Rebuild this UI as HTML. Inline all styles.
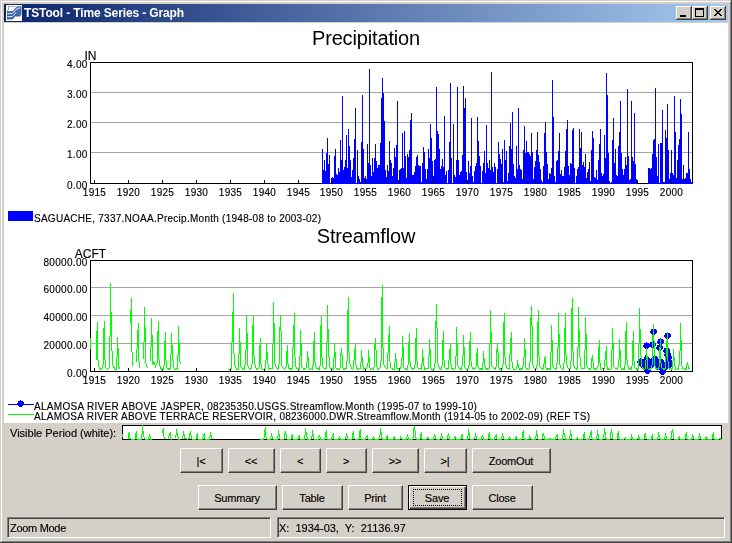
<!DOCTYPE html>
<html><head><meta charset="utf-8">
<style>
html,body{margin:0;padding:0;}
body{width:732px;height:543px;overflow:hidden;background:#d4d0c8;position:relative;font-family:"Liberation Sans",sans-serif;}
.abs{position:absolute;}
.ax,.axt,.leg,.ctitle,.btn,.status,.txt,.vp{opacity:0.999;will-change:opacity;}
.ax,.axt,.leg,.btn,.status,.vp{-webkit-text-stroke:0.15px #000;}
#title{left:4px;top:4px;width:724px;height:18px;background:linear-gradient(to right,#0a246a 0%,#a6caf0 100%);}
#title .txt{left:20px;top:1px;color:#fff;font-weight:bold;font-size:12px;line-height:16px;white-space:nowrap;letter-spacing:-0.13px;}
#canvas{left:4px;top:23px;width:724px;height:400px;background:#fff;}
.btn{box-sizing:border-box;height:25px;background:#d4d0c8;border:1px solid;border-color:#fff #404040 #404040 #fff;box-shadow:inset -1px -1px 0 #808080;font-size:11px;text-align:center;line-height:24px;color:#000;letter-spacing:-0.2px;padding-right:1px;}
.ctitle{font-size:20px;line-height:22px;white-space:nowrap;color:#000;text-align:center;width:732px;left:0;letter-spacing:-0.15px;}
.ax{font-size:10px;line-height:12px;white-space:nowrap;color:#000;letter-spacing:0.3px;}
.axt{font-size:12px;line-height:12px;white-space:nowrap;color:#000;}
.leg{font-size:10px;line-height:11px;white-space:nowrap;color:#000;letter-spacing:0.26px;}
.status{box-sizing:border-box;height:21px;border:1px solid;border-color:#808080 #fff #fff #808080;box-shadow:inset 1px 1px 0 #404040;font-size:11px;line-height:20px;padding-left:2px;white-space:nowrap;letter-spacing:-0.3px;}
</style></head><body>
<div class="abs" style="left:0;top:0;width:731px;height:542px;border-right:1px solid #404040;border-bottom:1px solid #404040;"></div>
<div class="abs" style="left:1px;top:1px;width:730px;height:541px;border:1px solid;border-color:#fff #808080 #808080 #fff;box-sizing:border-box;"></div>
<div id="title" class="abs"><div class="abs txt">TSTool - Time Series - Graph</div></div>
<div id="canvas" class="abs"></div>
<svg class="abs" style="left:0;top:0" width="732" height="24" viewBox="0 0 732 24" shape-rendering="crispEdges">
<g id="capbtns">
<!-- min -->
<rect x="676" y="6" width="16" height="14" fill="#404040"/><rect x="676" y="6" width="15" height="13" fill="#fff"/><rect x="677" y="7" width="14" height="12" fill="#808080"/><rect x="677" y="7" width="13" height="11" fill="#d4d0c8"/>
<rect x="680" y="15" width="6" height="2" fill="#000"/>
<!-- max -->
<rect x="692" y="6" width="16" height="14" fill="#404040"/><rect x="692" y="6" width="15" height="13" fill="#fff"/><rect x="693" y="7" width="14" height="12" fill="#808080"/><rect x="693" y="7" width="13" height="11" fill="#d4d0c8"/>
<rect x="695" y="8" width="9" height="9" fill="#000"/><rect x="696" y="10" width="7" height="6" fill="#d4d0c8"/>
<!-- close -->
<rect x="710" y="6" width="16" height="14" fill="#404040"/><rect x="710" y="6" width="15" height="13" fill="#fff"/><rect x="711" y="7" width="14" height="12" fill="#808080"/><rect x="711" y="7" width="13" height="11" fill="#d4d0c8"/>
<path d="M714 9h2v1h1v1h2v-1h1v-1h2v1h-1v1h-1v1h-1v1h1v1h1v1h1v1h-2v-1h-1v-1h-2v1h-1v1h-2v-1h1v-1h1v-1h1v-1h-1v-1h-1v-1h-1z" fill="#000"/>
</g>
<!-- icon -->
<g id="icon" shape-rendering="auto">
<rect x="6" y="5" width="16" height="16" fill="#fff"/>
<g transform="translate(6,5)">
<path d="M2 1.5H9.5M2.5 1.5V5" stroke="#a8a8a8" stroke-width="1" fill="none"/>
<path d="M1 5.2L3 6.2L7 6L9.3 3L11.2 1.2L15.6 1.2L15.4 9.5L14 11.6L9 11.6L7 14.2L1 14.8Z" fill="#4468a8"/>
<path d="M1.5 8.6L6 8.6L9.2 5.4L12 3.2L14.2 3" stroke="#fff" stroke-width="0.9" fill="none"/>
<path d="M1.5 11.6L6 11.6L8.6 9L10 7.4" stroke="#fff" stroke-width="0.9" fill="none"/>
<path d="M1.5 7.5L6 7.6L8 5.5M1.5 10.4L6.5 10.4L8 9M10 10.4L13.5 10.4" stroke="#2c4a86" stroke-width="0.7" fill="none" stroke-dasharray="1 1"/>
</g>
</g>
</svg>

<div class="abs ctitle" style="top:27px;">Precipitation</div>
<div class="abs ctitle" style="top:225px;">Streamflow</div>

<svg class="abs" style="left:0;top:0" width="732" height="543" viewBox="0 0 732 543" shape-rendering="crispEdges">
<rect x="91" y="92" width="601" height="1" fill="#a6a4a7"/>
<rect x="91" y="122" width="601" height="1" fill="#a6a4a7"/>
<rect x="91" y="152" width="601" height="1" fill="#a6a4a7"/>
<path d="M90 62h603v1h-603zM90 183h603v1h-603zM90 62h1v122h-1zM692 62h1v122h-1z" fill="#000"/>
<path d="M322 149h1v35h-1zM323 170h1v14h-1zM324 160h1v24h-1zM325 171h1v13h-1zM326 153h1v31h-1zM327 138h1v46h-1zM328 164h1v20h-1zM329 155h1v29h-1zM330 183h1v1h-1zM331 178h1v6h-1zM332 177h1v7h-1zM333 178h1v6h-1zM334 156h1v28h-1zM335 149h1v35h-1zM336 174h1v10h-1zM337 175h1v9h-1zM338 168h1v16h-1zM339 172h1v12h-1zM340 140h1v44h-1zM341 160h1v24h-1zM342 96h1v88h-1zM343 170h1v14h-1zM344 167h1v17h-1zM345 160h1v24h-1zM346 135h1v49h-1zM347 168h1v16h-1zM348 129h1v55h-1zM349 146h1v38h-1zM350 160h1v24h-1zM351 177h1v7h-1zM352 170h1v14h-1zM353 158h1v26h-1zM354 139h1v45h-1zM355 108h1v76h-1zM356 183h1v1h-1zM357 150h1v34h-1zM358 176h1v8h-1zM359 179h1v5h-1zM360 182h1v2h-1zM361 142h1v42h-1zM362 95h1v89h-1zM363 149h1v35h-1zM364 178h1v6h-1zM365 176h1v8h-1zM366 179h1v5h-1zM367 144h1v40h-1zM368 163h1v21h-1zM369 69h1v115h-1zM370 165h1v19h-1zM371 176h1v8h-1zM372 158h1v26h-1zM373 172h1v12h-1zM374 158h1v26h-1zM375 144h1v40h-1zM376 161h1v23h-1zM377 168h1v16h-1zM378 165h1v19h-1zM379 165h1v19h-1zM380 143h1v41h-1zM381 98h1v86h-1zM382 78h1v106h-1zM383 93h1v91h-1zM384 121h1v63h-1zM385 170h1v14h-1zM386 177h1v7h-1zM387 165h1v19h-1zM388 171h1v13h-1zM389 141h1v43h-1zM390 160h1v24h-1zM391 163h1v21h-1zM392 176h1v8h-1zM393 168h1v16h-1zM394 148h1v36h-1zM395 157h1v27h-1zM396 145h1v39h-1zM397 101h1v83h-1zM398 180h1v4h-1zM399 170h1v14h-1zM400 169h1v15h-1zM401 168h1v16h-1zM402 133h1v51h-1zM403 168h1v16h-1zM404 131h1v53h-1zM405 156h1v28h-1zM406 178h1v6h-1zM407 154h1v30h-1zM408 157h1v27h-1zM409 150h1v34h-1zM410 120h1v64h-1zM411 113h1v71h-1zM412 175h1v9h-1zM413 175h1v9h-1zM414 172h1v12h-1zM415 166h1v18h-1zM416 157h1v27h-1zM417 155h1v29h-1zM418 165h1v19h-1zM419 166h1v18h-1zM420 166h1v18h-1zM421 182h1v2h-1zM422 163h1v21h-1zM423 147h1v37h-1zM424 152h1v32h-1zM425 169h1v15h-1zM426 179h1v5h-1zM427 169h1v15h-1zM428 149h1v35h-1zM429 158h1v26h-1zM430 124h1v60h-1zM431 138h1v46h-1zM432 161h1v23h-1zM433 176h1v8h-1zM434 160h1v24h-1zM435 159h1v25h-1zM436 87h1v97h-1zM437 131h1v53h-1zM438 134h1v50h-1zM439 149h1v35h-1zM440 169h1v15h-1zM441 166h1v18h-1zM442 159h1v25h-1zM443 167h1v17h-1zM444 116h1v68h-1zM445 175h1v9h-1zM446 171h1v13h-1zM447 183h1v1h-1zM448 170h1v14h-1zM449 142h1v42h-1zM450 83h1v101h-1zM451 158h1v26h-1zM452 183h1v1h-1zM453 124h1v60h-1zM454 175h1v9h-1zM455 177h1v7h-1zM456 160h1v24h-1zM457 87h1v97h-1zM458 160h1v24h-1zM459 175h1v9h-1zM460 172h1v12h-1zM461 171h1v13h-1zM462 155h1v29h-1zM463 86h1v98h-1zM464 108h1v76h-1zM465 98h1v86h-1zM466 172h1v12h-1zM467 180h1v4h-1zM468 161h1v23h-1zM469 173h1v11h-1zM470 166h1v18h-1zM471 118h1v66h-1zM472 176h1v8h-1zM473 182h1v2h-1zM474 171h1v13h-1zM475 166h1v18h-1zM476 163h1v21h-1zM477 117h1v67h-1zM478 141h1v43h-1zM479 156h1v28h-1zM480 166h1v18h-1zM481 183h1v1h-1zM482 171h1v13h-1zM483 163h1v21h-1zM484 151h1v33h-1zM485 173h1v11h-1zM486 125h1v59h-1zM487 163h1v21h-1zM488 168h1v16h-1zM489 160h1v24h-1zM490 170h1v14h-1zM491 72h1v112h-1zM492 167h1v17h-1zM493 172h1v12h-1zM494 163h1v21h-1zM495 167h1v17h-1zM496 183h1v1h-1zM497 169h1v15h-1zM498 142h1v42h-1zM499 154h1v30h-1zM500 159h1v25h-1zM501 164h1v20h-1zM502 149h1v35h-1zM503 182h1v2h-1zM504 140h1v44h-1zM505 160h1v24h-1zM506 151h1v33h-1zM507 181h1v3h-1zM508 173h1v11h-1zM509 146h1v38h-1zM510 123h1v61h-1zM511 149h1v35h-1zM512 112h1v72h-1zM513 164h1v20h-1zM514 176h1v8h-1zM515 178h1v6h-1zM516 146h1v38h-1zM517 169h1v15h-1zM518 108h1v76h-1zM519 165h1v19h-1zM520 169h1v15h-1zM521 170h1v14h-1zM522 179h1v5h-1zM523 150h1v34h-1zM524 126h1v58h-1zM525 153h1v31h-1zM526 141h1v43h-1zM527 152h1v32h-1zM528 152h1v32h-1zM529 154h1v30h-1zM530 156h1v28h-1zM531 133h1v51h-1zM532 152h1v32h-1zM533 179h1v5h-1zM534 167h1v17h-1zM535 161h1v23h-1zM536 150h1v34h-1zM537 132h1v52h-1zM538 155h1v29h-1zM539 162h1v22h-1zM540 169h1v15h-1zM541 180h1v4h-1zM542 182h1v2h-1zM543 166h1v18h-1zM544 133h1v51h-1zM545 122h1v62h-1zM546 152h1v32h-1zM547 164h1v20h-1zM548 179h1v5h-1zM549 173h1v11h-1zM550 174h1v10h-1zM551 168h1v16h-1zM552 80h1v104h-1zM553 117h1v67h-1zM554 176h1v8h-1zM555 182h1v2h-1zM556 161h1v23h-1zM557 160h1v24h-1zM558 151h1v33h-1zM559 133h1v51h-1zM560 174h1v10h-1zM561 170h1v14h-1zM562 176h1v8h-1zM563 176h1v8h-1zM564 167h1v17h-1zM565 151h1v33h-1zM566 129h1v55h-1zM567 120h1v64h-1zM568 166h1v18h-1zM569 175h1v9h-1zM570 163h1v21h-1zM571 164h1v20h-1zM572 130h1v54h-1zM573 128h1v56h-1zM574 168h1v16h-1zM575 183h1v1h-1zM576 176h1v8h-1zM577 169h1v15h-1zM578 167h1v17h-1zM579 129h1v55h-1zM580 148h1v36h-1zM581 132h1v52h-1zM582 165h1v19h-1zM583 162h1v22h-1zM584 167h1v17h-1zM585 154h1v30h-1zM586 178h1v6h-1zM587 172h1v12h-1zM588 169h1v15h-1zM589 162h1v22h-1zM590 181h1v3h-1zM591 150h1v34h-1zM592 131h1v53h-1zM593 138h1v46h-1zM594 177h1v7h-1zM595 178h1v6h-1zM596 170h1v14h-1zM597 180h1v4h-1zM598 160h1v24h-1zM599 144h1v40h-1zM600 129h1v55h-1zM601 173h1v11h-1zM602 176h1v8h-1zM603 174h1v10h-1zM604 135h1v49h-1zM605 158h1v26h-1zM606 73h1v111h-1zM607 95h1v89h-1zM608 153h1v31h-1zM609 181h1v3h-1zM610 183h1v1h-1zM611 182h1v2h-1zM612 140h1v44h-1zM613 118h1v66h-1zM614 163h1v21h-1zM615 149h1v35h-1zM616 175h1v9h-1zM617 176h1v8h-1zM618 146h1v38h-1zM619 132h1v52h-1zM620 101h1v83h-1zM621 153h1v31h-1zM622 169h1v15h-1zM623 175h1v9h-1zM624 169h1v15h-1zM625 157h1v27h-1zM626 165h1v19h-1zM627 89h1v95h-1zM628 156h1v28h-1zM629 180h1v4h-1zM630 179h1v5h-1zM631 101h1v83h-1zM632 157h1v27h-1zM633 161h1v23h-1zM634 113h1v71h-1zM635 164h1v20h-1zM636 179h1v5h-1zM637 180h1v4h-1zM648 168h1v16h-1zM649 168h1v16h-1zM650 169h1v15h-1zM651 168h1v16h-1zM652 154h1v30h-1zM653 140h1v44h-1zM654 139h1v45h-1zM655 88h1v96h-1zM656 157h1v27h-1zM657 176h1v8h-1zM658 144h1v40h-1zM659 183h1v1h-1zM660 143h1v41h-1zM661 143h1v41h-1zM662 110h1v74h-1zM663 182h1v2h-1zM664 182h1v2h-1zM665 130h1v54h-1zM666 138h1v46h-1zM667 104h1v80h-1zM668 150h1v34h-1zM669 179h1v5h-1zM670 173h1v11h-1zM671 150h1v34h-1zM672 173h1v11h-1zM673 175h1v9h-1zM674 96h1v88h-1zM675 132h1v52h-1zM676 178h1v6h-1zM677 160h1v24h-1zM678 145h1v39h-1zM679 139h1v45h-1zM680 99h1v85h-1zM681 114h1v70h-1zM682 179h1v5h-1zM683 165h1v19h-1zM684 179h1v5h-1zM685 178h1v6h-1zM686 173h1v11h-1zM687 173h1v11h-1zM688 132h1v52h-1zM689 169h1v15h-1zM690 179h1v5h-1zM691 182h1v2h-1z" fill="#0000ff"/>
<path d="M94 180h1v4h-1zM128 180h1v4h-1zM162 180h1v4h-1zM196 180h1v4h-1zM230 180h1v4h-1zM264 180h1v4h-1zM298 180h1v4h-1zM331 180h1v4h-1zM365 180h1v4h-1zM399 180h1v4h-1zM433 180h1v4h-1zM467 180h1v4h-1zM501 180h1v4h-1zM535 180h1v4h-1zM569 180h1v4h-1zM603 180h1v4h-1zM637 180h1v4h-1zM671 180h1v4h-1z" fill="#000"/>
<rect x="8" y="211" width="25" height="10" fill="#0000ff"/>
<rect x="91" y="287" width="601" height="1" fill="#a6a4a7"/>
<rect x="91" y="315" width="601" height="1" fill="#a6a4a7"/>
<rect x="91" y="343" width="601" height="1" fill="#a6a4a7"/>
<path d="M90 260h603v1h-603zM90 371h603v1h-603zM90 260h1v112h-1zM692 260h1v112h-1z" fill="#000"/>
<path d="M94 368h1v3h-1zM128 368h1v3h-1zM162 368h1v3h-1zM196 368h1v3h-1zM230 368h1v3h-1zM264 368h1v3h-1zM298 368h1v3h-1zM331 368h1v3h-1zM365 368h1v3h-1zM399 368h1v3h-1zM433 368h1v3h-1zM467 368h1v3h-1zM501 368h1v3h-1zM535 368h1v3h-1zM569 368h1v3h-1zM603 368h1v3h-1zM637 368h1v3h-1zM671 368h1v3h-1z" fill="#000"/>
<path d="M637 361h1v2h-1zM638 359h1v5h-1zM639 359h1v7h-1zM640 358h1v9h-1zM641 359h1v9h-1zM642 359h1v10h-1zM643 345h1v2h-1zM643 359h1v11h-1zM644 343h1v5h-1zM644 357h1v15h-1zM645 343h1v6h-1zM645 355h1v18h-1zM646 342h1v32h-1zM647 343h1v6h-1zM647 357h1v17h-1zM648 343h1v5h-1zM648 357h1v17h-1zM649 344h1v3h-1zM649 358h1v15h-1zM650 331h1v2h-1zM650 342h1v5h-1zM650 359h1v13h-1zM651 329h1v5h-1zM651 342h1v6h-1zM651 358h1v11h-1zM652 329h1v6h-1zM652 338h1v30h-1zM653 328h1v20h-1zM653 356h1v11h-1zM654 329h1v6h-1zM654 342h1v24h-1zM655 329h1v5h-1zM655 343h1v3h-1zM655 356h1v12h-1zM656 330h1v3h-1zM656 347h1v2h-1zM656 356h1v13h-1zM657 341h1v2h-1zM657 345h1v5h-1zM657 357h1v13h-1zM658 339h1v5h-1zM658 345h1v6h-1zM658 359h1v11h-1zM659 339h1v31h-1zM659 371h1v2h-1zM660 338h1v36h-1zM661 339h1v11h-1zM661 359h1v16h-1zM662 339h1v5h-1zM662 346h1v3h-1zM662 359h1v16h-1zM663 340h1v3h-1zM663 350h1v2h-1zM663 360h1v15h-1zM664 335h1v2h-1zM664 348h1v5h-1zM664 354h1v2h-1zM664 362h1v12h-1zM665 333h1v5h-1zM665 348h1v25h-1zM666 333h1v6h-1zM666 343h1v27h-1zM667 332h1v37h-1zM668 333h1v6h-1zM668 348h1v20h-1zM669 333h1v5h-1zM669 349h1v19h-1zM670 334h1v3h-1zM670 353h1v15h-1zM671 356h1v3h-1zM671 360h1v7h-1zM672 363h1v3h-1z" fill="#0000ff"/>
<path d="M90 338h1v11h-1zM96 331h1v29h-1zM97 322h1v38h-1zM98 360h1v7h-1zM99 367h1v2h-1zM100 368h1v2h-1zM101 369h1v1h-1zM102 365h1v4h-1zM103 328h1v37h-1zM104 321h1v39h-1zM105 360h1v8h-1zM106 368h1v1h-1zM107 369h1v1h-1zM108 368h1v1h-1zM109 336h1v32h-1zM110 283h1v53h-1zM111 312h1v39h-1zM112 351h1v14h-1zM113 365h1v3h-1zM114 367h1v3h-1zM115 369h1v1h-1zM116 357h1v13h-1zM117 337h1v20h-1zM118 348h1v19h-1zM119 367h1v2h-1zM130 310h1v13h-1zM131 298h1v54h-1zM132 352h1v14h-1zM136 349h1v13h-1zM137 330h1v19h-1zM138 323h1v38h-1zM139 361h1v7h-1zM143 342h1v17h-1zM144 307h1v35h-1zM145 327h1v37h-1zM146 364h1v3h-1zM147 367h1v1h-1zM150 347h1v14h-1zM151 318h1v29h-1zM152 335h1v29h-1zM153 362h1v3h-1zM154 362h1v3h-1zM155 365h1v3h-1zM156 363h1v2h-1zM157 331h1v32h-1zM158 321h1v38h-1zM159 359h1v7h-1zM160 366h1v3h-1zM161 368h1v2h-1zM162 368h1v2h-1zM163 366h1v4h-1zM164 341h1v25h-1zM165 332h1v29h-1zM166 361h1v7h-1zM167 368h1v1h-1zM168 368h1v2h-1zM169 368h1v2h-1zM170 354h1v15h-1zM171 333h1v21h-1zM172 345h1v16h-1zM173 361h1v7h-1zM174 368h1v2h-1zM175 369h1v1h-1zM176 368h1v1h-1zM177 355h1v15h-1zM178 326h1v29h-1zM179 342h1v20h-1zM180 362h1v2h-1zM228 369h1v1h-1zM229 369h1v1h-1zM230 368h1v1h-1zM231 342h1v27h-1zM232 312h1v30h-1zM233 293h1v61h-1zM234 354h1v12h-1zM235 366h1v2h-1zM236 368h1v2h-1zM237 369h1v1h-1zM238 354h1v16h-1zM239 328h1v26h-1zM240 342h1v25h-1zM241 367h1v1h-1zM242 368h1v2h-1zM243 368h1v1h-1zM244 365h1v5h-1zM245 350h1v15h-1zM246 315h1v35h-1zM247 333h1v33h-1zM248 366h1v2h-1zM249 368h1v2h-1zM250 368h1v1h-1zM251 364h1v5h-1zM252 325h1v39h-1zM253 316h1v40h-1zM254 356h1v9h-1zM255 365h1v3h-1zM256 368h1v2h-1zM257 368h1v1h-1zM258 367h1v2h-1zM259 345h1v22h-1zM260 338h1v26h-1zM261 364h1v5h-1zM262 369h1v1h-1zM263 369h1v1h-1zM264 368h1v1h-1zM265 360h1v9h-1zM266 343h1v17h-1zM267 352h1v12h-1zM268 364h1v5h-1zM269 368h1v2h-1zM270 368h1v1h-1zM271 368h1v1h-1zM272 344h1v25h-1zM273 302h1v42h-1zM274 323h1v41h-1zM275 364h1v3h-1zM276 367h1v1h-1zM277 368h1v2h-1zM278 364h1v5h-1zM279 327h1v37h-1zM280 315h1v16h-1zM281 331h1v35h-1zM282 366h1v2h-1zM283 368h1v1h-1zM284 369h1v1h-1zM285 367h1v2h-1zM286 351h1v16h-1zM287 345h1v19h-1zM288 364h1v5h-1zM289 368h1v1h-1zM290 368h1v2h-1zM291 368h1v2h-1zM292 347h1v22h-1zM293 325h1v22h-1zM294 313h1v44h-1zM295 357h1v10h-1zM296 367h1v2h-1zM297 368h1v1h-1zM298 368h1v2h-1zM299 356h1v14h-1zM300 330h1v26h-1zM301 343h1v24h-1zM302 367h1v1h-1zM303 368h1v2h-1zM304 368h1v2h-1zM305 368h1v1h-1zM306 362h1v6h-1zM307 351h1v11h-1zM308 357h1v12h-1zM309 369h1v1h-1zM310 369h1v1h-1zM311 368h1v1h-1zM312 365h1v5h-1zM313 341h1v24h-1zM314 332h1v30h-1zM315 362h1v5h-1zM316 367h1v2h-1zM317 368h1v1h-1zM318 368h1v2h-1zM319 366h1v4h-1zM320 325h1v41h-1zM321 316h1v42h-1zM322 358h1v9h-1zM323 367h1v1h-1zM324 368h1v2h-1zM325 368h1v1h-1zM326 342h1v27h-1zM327 305h1v37h-1zM328 329h1v28h-1zM329 357h1v10h-1zM330 367h1v2h-1zM331 368h1v1h-1zM332 368h1v1h-1zM333 358h1v12h-1zM334 343h1v15h-1zM335 352h1v16h-1zM336 368h1v1h-1zM337 368h1v2h-1zM338 369h1v1h-1zM339 368h1v2h-1zM340 353h1v15h-1zM341 348h1v7h-1zM342 355h1v13h-1zM343 368h1v2h-1zM344 368h1v2h-1zM345 368h1v1h-1zM346 361h1v8h-1zM347 310h1v51h-1zM348 297h1v56h-1zM349 353h1v11h-1zM350 364h1v3h-1zM351 367h1v2h-1zM352 369h1v1h-1zM353 360h1v9h-1zM354 349h1v11h-1zM355 343h1v22h-1zM356 365h1v4h-1zM357 368h1v2h-1zM358 369h1v1h-1zM359 368h1v1h-1zM360 363h1v6h-1zM361 350h1v13h-1zM362 357h1v9h-1zM363 366h1v4h-1zM364 368h1v1h-1zM365 368h1v1h-1zM366 367h1v2h-1zM367 363h1v4h-1zM368 350h1v13h-1zM369 357h1v11h-1zM370 368h1v2h-1zM371 369h1v1h-1zM372 368h1v1h-1zM373 367h1v3h-1zM374 344h1v23h-1zM375 338h1v12h-1zM376 350h1v17h-1zM377 367h1v3h-1zM378 369h1v1h-1zM379 368h1v1h-1zM380 361h1v7h-1zM381 297h1v64h-1zM382 285h1v63h-1zM383 348h1v17h-1zM384 365h1v2h-1zM385 367h1v1h-1zM386 368h1v1h-1zM387 353h1v16h-1zM388 335h1v18h-1zM389 326h1v36h-1zM390 362h1v6h-1zM391 368h1v1h-1zM392 368h1v2h-1zM393 369h1v1h-1zM394 362h1v8h-1zM395 353h1v9h-1zM396 359h1v10h-1zM397 368h1v1h-1zM398 368h1v2h-1zM399 369h1v1h-1zM400 366h1v3h-1zM401 358h1v8h-1zM402 336h1v22h-1zM403 347h1v21h-1zM404 368h1v1h-1zM405 368h1v2h-1zM406 369h1v1h-1zM407 365h1v5h-1zM408 342h1v23h-1zM409 333h1v29h-1zM410 362h1v5h-1zM411 367h1v2h-1zM412 368h1v2h-1zM413 368h1v1h-1zM414 365h1v4h-1zM415 338h1v27h-1zM416 328h1v33h-1zM417 361h1v7h-1zM418 368h1v1h-1zM419 368h1v1h-1zM420 368h1v1h-1zM421 363h1v7h-1zM422 349h1v14h-1zM423 357h1v9h-1zM424 366h1v4h-1zM425 368h1v2h-1zM426 368h1v1h-1zM427 368h1v1h-1zM428 356h1v13h-1zM429 339h1v17h-1zM430 349h1v19h-1zM431 368h1v2h-1zM432 369h1v1h-1zM433 368h1v2h-1zM434 363h1v6h-1zM435 321h1v42h-1zM436 304h1v24h-1zM437 328h1v36h-1zM438 364h1v3h-1zM439 367h1v2h-1zM440 369h1v1h-1zM441 366h1v4h-1zM442 340h1v26h-1zM443 331h1v29h-1zM444 360h1v8h-1zM445 368h1v1h-1zM446 368h1v1h-1zM447 368h1v2h-1zM448 360h1v9h-1zM449 349h1v11h-1zM450 344h1v20h-1zM451 364h1v5h-1zM452 368h1v2h-1zM453 368h1v1h-1zM454 369h1v1h-1zM455 356h1v13h-1zM456 327h1v29h-1zM457 343h1v23h-1zM458 366h1v2h-1zM459 368h1v1h-1zM460 368h1v2h-1zM461 366h1v4h-1zM462 355h1v11h-1zM463 335h1v20h-1zM464 347h1v21h-1zM465 368h1v1h-1zM466 369h1v1h-1zM467 368h1v2h-1zM468 365h1v4h-1zM469 341h1v24h-1zM470 332h1v29h-1zM471 361h1v6h-1zM472 367h1v2h-1zM473 368h1v2h-1zM474 368h1v1h-1zM475 367h1v2h-1zM476 353h1v14h-1zM477 348h1v18h-1zM478 366h1v3h-1zM479 369h1v1h-1zM480 368h1v2h-1zM481 368h1v2h-1zM482 363h1v7h-1zM483 351h1v12h-1zM484 358h1v8h-1zM485 366h1v3h-1zM486 368h1v2h-1zM487 368h1v2h-1zM488 369h1v1h-1zM489 343h1v26h-1zM490 310h1v33h-1zM491 332h1v34h-1zM492 366h1v1h-1zM493 367h1v2h-1zM494 368h1v1h-1zM495 367h1v3h-1zM496 349h1v18h-1zM497 343h1v10h-1zM498 353h1v15h-1zM499 368h1v2h-1zM500 368h1v2h-1zM501 369h1v1h-1zM502 364h1v5h-1zM503 322h1v42h-1zM504 313h1v44h-1zM505 357h1v8h-1zM506 365h1v3h-1zM507 368h1v1h-1zM508 368h1v1h-1zM509 354h1v16h-1zM510 338h1v16h-1zM511 332h1v30h-1zM512 362h1v6h-1zM513 368h1v2h-1zM514 369h1v1h-1zM515 369h1v1h-1zM516 366h1v3h-1zM517 360h1v6h-1zM518 364h1v4h-1zM519 368h1v2h-1zM520 368h1v2h-1zM521 368h1v2h-1zM522 366h1v3h-1zM523 357h1v9h-1zM524 338h1v19h-1zM525 349h1v19h-1zM526 368h1v2h-1zM527 368h1v1h-1zM528 369h1v1h-1zM529 362h1v7h-1zM530 317h1v45h-1zM531 306h1v20h-1zM532 326h1v39h-1zM533 365h1v3h-1zM534 368h1v1h-1zM535 368h1v1h-1zM536 365h1v4h-1zM537 322h1v43h-1zM538 310h1v47h-1zM539 357h1v10h-1zM540 367h1v1h-1zM541 368h1v1h-1zM542 368h1v2h-1zM543 364h1v5h-1zM544 358h1v6h-1zM545 356h1v12h-1zM546 368h1v2h-1zM547 368h1v2h-1zM548 368h1v2h-1zM549 368h1v1h-1zM550 352h1v18h-1zM551 325h1v27h-1zM552 340h1v26h-1zM553 366h1v2h-1zM554 368h1v1h-1zM555 368h1v2h-1zM556 363h1v6h-1zM557 347h1v16h-1zM558 313h1v34h-1zM559 334h1v31h-1zM560 365h1v3h-1zM561 368h1v1h-1zM562 369h1v1h-1zM563 363h1v7h-1zM564 328h1v35h-1zM565 313h1v42h-1zM566 355h1v10h-1zM567 365h1v3h-1zM568 368h1v1h-1zM569 368h1v1h-1zM570 361h1v8h-1zM571 308h1v53h-1zM572 298h1v53h-1zM573 351h1v15h-1zM574 366h1v2h-1zM575 368h1v1h-1zM576 368h1v2h-1zM577 347h1v22h-1zM578 307h1v40h-1zM579 330h1v27h-1zM580 357h1v10h-1zM581 367h1v2h-1zM582 368h1v1h-1zM583 368h1v1h-1zM584 350h1v19h-1zM585 317h1v33h-1zM586 334h1v32h-1zM587 366h1v2h-1zM588 368h1v1h-1zM589 368h1v2h-1zM590 368h1v2h-1zM591 358h1v10h-1zM592 355h1v6h-1zM593 361h1v8h-1zM594 368h1v2h-1zM595 368h1v2h-1zM596 369h1v1h-1zM597 366h1v3h-1zM598 347h1v19h-1zM599 340h1v23h-1zM600 363h1v6h-1zM601 369h1v1h-1zM602 368h1v1h-1zM603 369h1v1h-1zM604 360h1v9h-1zM605 351h1v9h-1zM606 346h1v20h-1zM607 366h1v4h-1zM608 368h1v2h-1zM609 369h1v1h-1zM610 369h1v1h-1zM611 350h1v19h-1zM612 328h1v22h-1zM613 343h1v24h-1zM614 367h1v1h-1zM615 368h1v1h-1zM616 368h1v1h-1zM617 367h1v3h-1zM618 359h1v8h-1zM619 339h1v20h-1zM620 350h1v18h-1zM621 368h1v2h-1zM622 369h1v1h-1zM623 368h1v2h-1zM624 365h1v5h-1zM625 331h1v34h-1zM626 322h1v38h-1zM627 360h1v6h-1zM628 366h1v3h-1zM629 368h1v2h-1zM630 369h1v1h-1zM631 366h1v4h-1zM632 341h1v25h-1zM633 331h1v30h-1zM634 361h1v7h-1zM635 368h1v1h-1zM636 368h1v2h-1zM637 368h1v2h-1zM638 344h1v25h-1zM639 308h1v36h-1zM640 329h1v27h-1zM641 356h1v11h-1zM642 367h1v2h-1zM643 368h1v2h-1zM644 369h1v1h-1zM645 360h1v9h-1zM646 348h1v12h-1zM647 356h1v13h-1zM648 369h1v1h-1zM649 368h1v2h-1zM650 368h1v2h-1zM651 365h1v4h-1zM652 335h1v30h-1zM653 324h1v17h-1zM654 341h1v25h-1zM655 366h1v3h-1zM656 368h1v2h-1zM657 368h1v1h-1zM658 367h1v3h-1zM659 347h1v20h-1zM660 339h1v24h-1zM661 363h1v5h-1zM662 368h1v1h-1zM663 368h1v2h-1zM664 368h1v2h-1zM665 357h1v12h-1zM666 341h1v16h-1zM667 332h1v29h-1zM668 361h1v7h-1zM669 368h1v2h-1zM670 368h1v1h-1zM671 368h1v2h-1zM672 361h1v8h-1zM673 349h1v12h-1zM674 357h1v9h-1zM675 366h1v4h-1zM676 369h1v1h-1zM677 368h1v1h-1zM678 365h1v5h-1zM679 351h1v14h-1zM680 323h1v28h-1zM681 340h1v26h-1zM682 366h1v3h-1zM683 368h1v1h-1zM684 369h1v1h-1zM685 368h1v2h-1zM686 364h1v6h-1zM687 362h1v3h-1zM688 365h1v4h-1zM689 368h1v1h-1z" fill="#00ff00"/>
<path d="M8 404h1v1h-1zM9 404h1v1h-1zM10 404h1v1h-1zM11 404h1v1h-1zM12 404h1v1h-1zM13 404h1v1h-1zM14 404h1v1h-1zM15 404h1v1h-1zM16 404h1v1h-1zM17 403h1v2h-1zM18 401h1v5h-1zM19 401h1v6h-1zM20 400h1v7h-1zM21 401h1v6h-1zM22 401h1v5h-1zM23 402h1v3h-1zM24 404h1v1h-1zM25 404h1v1h-1zM26 404h1v1h-1zM27 404h1v1h-1zM28 404h1v1h-1zM29 404h1v1h-1zM30 404h1v1h-1zM31 404h1v1h-1zM32 404h1v1h-1zM33 404h1v1h-1z" fill="#0000ff"/>
<rect x="8" y="414" width="26" height="1" fill="#00ff00"/>
<rect x="122" y="425" width="600" height="15" fill="#000"/>
<rect x="123" y="426" width="598" height="13" fill="#fff"/>
<path d="M122 434h1v3h-1zM128 433h1v6h-1zM129 432h1v6h-1zM130 438h1v1h-1zM131 439h1v1h-1zM132 439h1v1h-1zM133 439h1v1h-1zM134 439h1v1h-1zM135 433h1v6h-1zM136 431h1v7h-1zM137 438h1v2h-1zM138 439h1v1h-1zM139 439h1v1h-1zM140 439h1v1h-1zM141 434h1v6h-1zM142 425h1v9h-1zM143 431h1v6h-1zM144 437h1v2h-1zM145 439h1v1h-1zM146 439h1v1h-1zM147 439h1v1h-1zM148 437h1v3h-1zM149 434h1v3h-1zM150 436h1v4h-1zM151 439h1v1h-1zM162 430h1v3h-1zM163 428h1v9h-1zM164 437h1v2h-1zM165 438h1v1h-1zM168 436h1v3h-1zM169 433h1v3h-1zM170 432h1v6h-1zM171 438h1v2h-1zM175 435h1v3h-1zM176 429h1v6h-1zM177 433h1v4h-1zM178 437h1v3h-1zM179 439h1v1h-1zM182 436h1v3h-1zM183 431h1v5h-1zM184 434h1v5h-1zM185 438h1v1h-1zM186 438h1v1h-1zM187 439h1v1h-1zM188 438h1v1h-1zM189 433h1v6h-1zM190 431h1v4h-1zM191 435h1v4h-1zM192 439h1v1h-1zM193 439h1v1h-1zM194 439h1v1h-1zM195 439h1v1h-1zM196 435h1v4h-1zM197 433h1v6h-1zM198 439h1v1h-1zM199 439h1v1h-1zM200 439h1v1h-1zM201 439h1v1h-1zM202 437h1v3h-1zM203 434h1v3h-1zM204 433h1v6h-1zM205 439h1v1h-1zM206 439h1v1h-1zM207 439h1v1h-1zM208 439h1v1h-1zM209 437h1v3h-1zM210 432h1v5h-1zM211 435h1v3h-1zM212 438h1v1h-1zM260 439h1v1h-1zM261 439h1v1h-1zM262 439h1v1h-1zM263 438h1v2h-1zM264 430h1v8h-1zM265 427h1v10h-1zM266 437h1v2h-1zM267 439h1v1h-1zM268 439h1v1h-1zM269 439h1v1h-1zM270 437h1v3h-1zM271 433h1v4h-1zM272 436h1v3h-1zM273 439h1v1h-1zM274 439h1v1h-1zM275 439h1v1h-1zM276 439h1v1h-1zM277 436h1v4h-1zM278 430h1v6h-1zM279 434h1v5h-1zM280 439h1v1h-1zM281 439h1v1h-1zM282 439h1v1h-1zM283 439h1v1h-1zM284 433h1v6h-1zM285 431h1v3h-1zM286 434h1v5h-1zM287 439h1v1h-1zM288 439h1v1h-1zM289 439h1v1h-1zM290 439h1v1h-1zM291 435h1v4h-1zM292 434h1v5h-1zM293 439h1v1h-1zM294 439h1v1h-1zM295 439h1v1h-1zM296 439h1v1h-1zM297 438h1v2h-1zM298 436h1v2h-1zM299 435h1v4h-1zM300 439h1v1h-1zM301 439h1v1h-1zM302 439h1v1h-1zM303 439h1v1h-1zM304 435h1v5h-1zM305 428h1v7h-1zM306 432h1v5h-1zM307 437h1v3h-1zM308 439h1v1h-1zM309 439h1v1h-1zM310 439h1v1h-1zM311 436h1v3h-1zM312 430h1v6h-1zM313 434h1v5h-1zM314 439h1v1h-1zM315 439h1v1h-1zM316 439h1v1h-1zM317 439h1v1h-1zM318 436h1v4h-1zM319 435h1v2h-1zM320 437h1v3h-1zM321 439h1v1h-1zM322 439h1v1h-1zM323 439h1v1h-1zM324 438h1v2h-1zM325 432h1v6h-1zM326 430h1v8h-1zM327 438h1v2h-1zM328 439h1v1h-1zM329 439h1v1h-1zM330 439h1v1h-1zM331 437h1v3h-1zM332 435h1v2h-1zM333 433h1v6h-1zM334 439h1v1h-1zM335 439h1v1h-1zM336 439h1v1h-1zM337 439h1v1h-1zM338 438h1v2h-1zM339 436h1v2h-1zM340 438h1v2h-1zM341 439h1v1h-1zM342 439h1v1h-1zM343 439h1v1h-1zM344 439h1v1h-1zM345 437h1v2h-1zM346 433h1v4h-1zM347 436h1v4h-1zM348 439h1v1h-1zM349 439h1v1h-1zM350 439h1v1h-1zM351 439h1v1h-1zM352 433h1v6h-1zM353 431h1v7h-1zM354 438h1v1h-1zM355 439h1v1h-1zM356 439h1v1h-1zM357 439h1v1h-1zM358 438h1v2h-1zM359 431h1v7h-1zM360 429h1v9h-1zM361 438h1v2h-1zM362 439h1v1h-1zM363 439h1v1h-1zM364 439h1v1h-1zM365 437h1v3h-1zM366 436h1v1h-1zM367 435h1v4h-1zM368 439h1v1h-1zM369 439h1v1h-1zM370 439h1v1h-1zM371 439h1v1h-1zM372 438h1v2h-1zM373 436h1v2h-1zM374 438h1v2h-1zM375 439h1v1h-1zM376 439h1v1h-1zM377 439h1v1h-1zM378 438h1v2h-1zM379 435h1v3h-1zM380 428h1v7h-1zM381 432h1v7h-1zM382 438h1v2h-1zM383 439h1v1h-1zM384 439h1v1h-1zM385 439h1v1h-1zM386 436h1v4h-1zM387 435h1v4h-1zM388 439h1v1h-1zM389 439h1v1h-1zM390 439h1v1h-1zM391 439h1v1h-1zM392 439h1v1h-1zM393 437h1v3h-1zM394 436h1v3h-1zM395 439h1v1h-1zM396 439h1v1h-1zM397 439h1v1h-1zM398 439h1v1h-1zM399 439h1v1h-1zM400 436h1v3h-1zM401 438h1v1h-1zM402 439h1v1h-1zM403 439h1v1h-1zM404 439h1v1h-1zM405 439h1v1h-1zM406 437h1v3h-1zM407 434h1v3h-1zM408 437h1v3h-1zM409 439h1v1h-1zM410 439h1v1h-1zM411 439h1v1h-1zM412 438h1v2h-1zM413 428h1v10h-1zM414 426h1v5h-1zM415 431h1v7h-1zM416 438h1v2h-1zM417 439h1v1h-1zM418 439h1v1h-1zM419 439h1v1h-1zM420 434h1v5h-1zM421 432h1v7h-1zM422 439h1v1h-1zM423 439h1v1h-1zM424 439h1v1h-1zM425 439h1v1h-1zM426 438h1v2h-1zM427 437h1v1h-1zM428 437h1v2h-1zM429 439h1v1h-1zM430 439h1v1h-1zM431 439h1v1h-1zM432 439h1v1h-1zM433 437h1v3h-1zM434 434h1v3h-1zM435 436h1v3h-1zM436 439h1v1h-1zM437 439h1v1h-1zM438 439h1v1h-1zM439 439h1v1h-1zM440 437h1v2h-1zM441 433h1v4h-1zM442 436h1v4h-1zM443 439h1v1h-1zM444 439h1v1h-1zM445 439h1v1h-1zM446 439h1v1h-1zM447 435h1v4h-1zM448 433h1v3h-1zM449 436h1v4h-1zM450 439h1v1h-1zM451 439h1v1h-1zM452 439h1v1h-1zM453 439h1v1h-1zM454 437h1v3h-1zM455 436h1v3h-1zM456 439h1v1h-1zM457 439h1v1h-1zM458 439h1v1h-1zM459 439h1v1h-1zM460 438h1v2h-1zM461 435h1v3h-1zM462 434h1v5h-1zM463 439h1v1h-1zM464 439h1v1h-1zM465 439h1v1h-1zM466 439h1v1h-1zM467 436h1v4h-1zM468 429h1v7h-1zM469 433h1v6h-1zM470 439h1v1h-1zM471 439h1v1h-1zM472 439h1v1h-1zM473 439h1v1h-1zM474 437h1v2h-1zM475 433h1v4h-1zM476 436h1v3h-1zM477 439h1v1h-1zM478 439h1v1h-1zM479 439h1v1h-1zM480 439h1v1h-1zM481 436h1v4h-1zM482 435h1v2h-1zM483 437h1v3h-1zM484 439h1v1h-1zM485 439h1v1h-1zM486 439h1v1h-1zM487 439h1v1h-1zM488 434h1v5h-1zM489 432h1v6h-1zM490 438h1v2h-1zM491 439h1v1h-1zM492 439h1v1h-1zM493 439h1v1h-1zM494 437h1v3h-1zM495 435h1v2h-1zM496 434h1v5h-1zM497 439h1v1h-1zM498 439h1v1h-1zM499 439h1v1h-1zM500 439h1v1h-1zM501 437h1v3h-1zM502 433h1v4h-1zM503 436h1v3h-1zM504 439h1v1h-1zM505 439h1v1h-1zM506 439h1v1h-1zM507 439h1v1h-1zM508 438h1v2h-1zM509 436h1v2h-1zM510 438h1v2h-1zM511 439h1v1h-1zM512 439h1v1h-1zM513 439h1v1h-1zM514 439h1v1h-1zM515 437h1v3h-1zM516 436h1v3h-1zM517 439h1v1h-1zM518 439h1v1h-1zM519 439h1v1h-1zM520 439h1v1h-1zM521 438h1v2h-1zM522 432h1v6h-1zM523 430h1v8h-1zM524 438h1v2h-1zM525 439h1v1h-1zM526 439h1v1h-1zM527 439h1v1h-1zM528 438h1v2h-1zM529 435h1v3h-1zM530 437h1v2h-1zM531 439h1v1h-1zM532 439h1v1h-1zM533 439h1v1h-1zM534 439h1v1h-1zM535 436h1v4h-1zM536 430h1v6h-1zM537 434h1v5h-1zM538 439h1v1h-1zM539 439h1v1h-1zM540 439h1v1h-1zM541 439h1v1h-1zM542 434h1v5h-1zM543 433h1v3h-1zM544 436h1v4h-1zM545 439h1v1h-1zM546 439h1v1h-1zM547 439h1v1h-1zM548 439h1v1h-1zM549 438h1v2h-1zM550 438h1v2h-1zM551 439h1v1h-1zM552 439h1v1h-1zM553 439h1v1h-1zM554 439h1v1h-1zM555 437h1v3h-1zM556 435h1v2h-1zM557 434h1v5h-1zM558 439h1v1h-1zM559 439h1v1h-1zM560 439h1v1h-1zM561 439h1v1h-1zM562 435h1v5h-1zM563 429h1v6h-1zM564 433h1v4h-1zM565 437h1v3h-1zM566 439h1v1h-1zM567 439h1v1h-1zM568 439h1v1h-1zM569 436h1v4h-1zM570 430h1v6h-1zM571 434h1v5h-1zM572 439h1v1h-1zM573 439h1v1h-1zM574 439h1v1h-1zM575 439h1v1h-1zM576 438h1v2h-1zM577 437h1v2h-1zM578 439h1v1h-1zM579 439h1v1h-1zM580 439h1v1h-1zM581 439h1v1h-1zM582 439h1v1h-1zM583 434h1v5h-1zM584 432h1v6h-1zM585 438h1v2h-1zM586 439h1v1h-1zM587 439h1v1h-1zM588 439h1v1h-1zM589 436h1v4h-1zM590 432h1v4h-1zM591 430h1v8h-1zM592 438h1v2h-1zM593 439h1v1h-1zM594 439h1v1h-1zM595 439h1v1h-1zM596 436h1v4h-1zM597 430h1v6h-1zM598 434h1v5h-1zM599 439h1v1h-1zM600 439h1v1h-1zM601 439h1v1h-1zM602 438h1v2h-1zM603 434h1v4h-1zM604 428h1v6h-1zM605 432h1v7h-1zM606 438h1v2h-1zM607 439h1v1h-1zM608 439h1v1h-1zM609 439h1v1h-1zM610 432h1v7h-1zM611 429h1v4h-1zM612 433h1v6h-1zM613 439h1v1h-1zM614 439h1v1h-1zM615 439h1v1h-1zM616 439h1v1h-1zM617 433h1v6h-1zM618 431h1v7h-1zM619 438h1v2h-1zM620 439h1v1h-1zM621 439h1v1h-1zM622 439h1v1h-1zM623 439h1v1h-1zM624 438h1v1h-1zM625 437h1v3h-1zM626 439h1v1h-1zM627 439h1v1h-1zM628 439h1v1h-1zM629 439h1v1h-1zM630 438h1v2h-1zM631 434h1v4h-1zM632 437h1v3h-1zM633 439h1v1h-1zM634 439h1v1h-1zM635 439h1v1h-1zM636 439h1v1h-1zM637 438h1v1h-1zM638 435h1v3h-1zM639 437h1v3h-1zM640 439h1v1h-1zM641 439h1v1h-1zM642 439h1v1h-1zM643 439h1v1h-1zM644 434h1v5h-1zM645 433h1v5h-1zM646 438h1v1h-1zM647 439h1v1h-1zM648 439h1v1h-1zM649 439h1v1h-1zM650 439h1v1h-1zM651 436h1v4h-1zM652 434h1v5h-1zM653 439h1v1h-1zM654 439h1v1h-1zM655 439h1v1h-1zM656 439h1v1h-1zM657 437h1v3h-1zM658 432h1v5h-1zM659 435h1v3h-1zM660 438h1v2h-1zM661 439h1v1h-1zM662 439h1v1h-1zM663 439h1v1h-1zM664 437h1v3h-1zM665 433h1v4h-1zM666 436h1v4h-1zM667 439h1v1h-1zM668 439h1v1h-1zM669 439h1v1h-1zM670 438h1v2h-1zM671 431h1v7h-1zM672 429h1v4h-1zM673 433h1v6h-1zM674 439h1v1h-1zM675 439h1v1h-1zM676 439h1v1h-1zM677 439h1v1h-1zM678 437h1v3h-1zM679 436h1v3h-1zM680 439h1v1h-1zM681 439h1v1h-1zM682 439h1v1h-1zM683 439h1v1h-1zM684 439h1v1h-1zM685 434h1v5h-1zM686 432h1v6h-1zM687 438h1v2h-1zM688 439h1v1h-1zM689 439h1v1h-1zM690 439h1v1h-1zM691 438h1v2h-1zM692 434h1v4h-1zM693 436h1v3h-1zM694 439h1v1h-1zM695 439h1v1h-1zM696 439h1v1h-1zM697 439h1v1h-1zM698 437h1v3h-1zM699 433h1v4h-1zM700 436h1v3h-1zM701 439h1v1h-1zM702 439h1v1h-1zM703 439h1v1h-1zM704 439h1v1h-1zM705 437h1v3h-1zM706 436h1v2h-1zM707 438h1v2h-1zM708 439h1v1h-1zM709 439h1v1h-1zM710 439h1v1h-1zM711 439h1v1h-1zM712 434h1v5h-1zM713 432h1v6h-1zM714 438h1v2h-1zM715 439h1v1h-1zM716 439h1v1h-1zM717 439h1v1h-1zM718 439h1v1h-1zM719 438h1v1h-1zM720 438h1v2h-1zM721 439h1v1h-1z" fill="#00ff00"/>
</svg>
<div class="abs ax" style="left:44.5px;width:100px;text-align:center;top:186.5px;">1915</div>
<div class="abs ax" style="left:44.5px;width:100px;text-align:center;top:374.5px;">1915</div>
<div class="abs ax" style="left:78.5px;width:100px;text-align:center;top:186.5px;">1920</div>
<div class="abs ax" style="left:78.5px;width:100px;text-align:center;top:374.5px;">1920</div>
<div class="abs ax" style="left:112.5px;width:100px;text-align:center;top:186.5px;">1925</div>
<div class="abs ax" style="left:112.5px;width:100px;text-align:center;top:374.5px;">1925</div>
<div class="abs ax" style="left:146.5px;width:100px;text-align:center;top:186.5px;">1930</div>
<div class="abs ax" style="left:146.5px;width:100px;text-align:center;top:374.5px;">1930</div>
<div class="abs ax" style="left:180.5px;width:100px;text-align:center;top:186.5px;">1935</div>
<div class="abs ax" style="left:180.5px;width:100px;text-align:center;top:374.5px;">1935</div>
<div class="abs ax" style="left:214.5px;width:100px;text-align:center;top:186.5px;">1940</div>
<div class="abs ax" style="left:214.5px;width:100px;text-align:center;top:374.5px;">1940</div>
<div class="abs ax" style="left:248.5px;width:100px;text-align:center;top:186.5px;">1945</div>
<div class="abs ax" style="left:248.5px;width:100px;text-align:center;top:374.5px;">1945</div>
<div class="abs ax" style="left:281.5px;width:100px;text-align:center;top:186.5px;">1950</div>
<div class="abs ax" style="left:281.5px;width:100px;text-align:center;top:374.5px;">1950</div>
<div class="abs ax" style="left:315.5px;width:100px;text-align:center;top:186.5px;">1955</div>
<div class="abs ax" style="left:315.5px;width:100px;text-align:center;top:374.5px;">1955</div>
<div class="abs ax" style="left:349.5px;width:100px;text-align:center;top:186.5px;">1960</div>
<div class="abs ax" style="left:349.5px;width:100px;text-align:center;top:374.5px;">1960</div>
<div class="abs ax" style="left:383.5px;width:100px;text-align:center;top:186.5px;">1965</div>
<div class="abs ax" style="left:383.5px;width:100px;text-align:center;top:374.5px;">1965</div>
<div class="abs ax" style="left:417.5px;width:100px;text-align:center;top:186.5px;">1970</div>
<div class="abs ax" style="left:417.5px;width:100px;text-align:center;top:374.5px;">1970</div>
<div class="abs ax" style="left:451.5px;width:100px;text-align:center;top:186.5px;">1975</div>
<div class="abs ax" style="left:451.5px;width:100px;text-align:center;top:374.5px;">1975</div>
<div class="abs ax" style="left:485.5px;width:100px;text-align:center;top:186.5px;">1980</div>
<div class="abs ax" style="left:485.5px;width:100px;text-align:center;top:374.5px;">1980</div>
<div class="abs ax" style="left:519.5px;width:100px;text-align:center;top:186.5px;">1985</div>
<div class="abs ax" style="left:519.5px;width:100px;text-align:center;top:374.5px;">1985</div>
<div class="abs ax" style="left:553.5px;width:100px;text-align:center;top:186.5px;">1990</div>
<div class="abs ax" style="left:553.5px;width:100px;text-align:center;top:374.5px;">1990</div>
<div class="abs ax" style="left:587.5px;width:100px;text-align:center;top:186.5px;">1995</div>
<div class="abs ax" style="left:587.5px;width:100px;text-align:center;top:374.5px;">1995</div>
<div class="abs ax" style="left:621.5px;width:100px;text-align:center;top:186.5px;">2000</div>
<div class="abs ax" style="left:621.5px;width:100px;text-align:center;top:374.5px;">2000</div>
<div class="abs ax" style="left:-12.400000000000006px;width:100px;text-align:right;top:59px;">4.00</div>
<div class="abs ax" style="left:-12.400000000000006px;width:100px;text-align:right;top:89px;">3.00</div>
<div class="abs ax" style="left:-12.400000000000006px;width:100px;text-align:right;top:119px;">2.00</div>
<div class="abs ax" style="left:-12.400000000000006px;width:100px;text-align:right;top:149px;">1.00</div>
<div class="abs ax" style="left:-12.400000000000006px;width:100px;text-align:right;top:180px;">0.00</div>
<div class="abs ax" style="left:-12.400000000000006px;width:100px;text-align:right;top:257px;">80000.00</div>
<div class="abs ax" style="left:-12.400000000000006px;width:100px;text-align:right;top:284px;">60000.00</div>
<div class="abs ax" style="left:-12.400000000000006px;width:100px;text-align:right;top:312px;">40000.00</div>
<div class="abs ax" style="left:-12.400000000000006px;width:100px;text-align:right;top:340px;">20000.00</div>
<div class="abs ax" style="left:-12.400000000000006px;width:100px;text-align:right;top:368px;">0.00</div>
<div class="abs axt" style="left:40.5px;width:100px;text-align:center;top:50px;">IN</div>
<div class="abs axt" style="left:40.5px;width:100px;text-align:center;top:248px;">ACFT</div>
<div class="abs leg" style="left:34px;top:212.5px;">SAGUACHE, 7337.NOAA.Precip.Month (1948-08 to 2003-02)</div>
<div class="abs leg" style="left:34px;top:400.5px;letter-spacing:0.29px;">ALAMOSA RIVER ABOVE JASPER, 08235350.USGS.Streamflow.Month (1995-07 to 1999-10)</div>
<div class="abs leg" style="left:34px;top:410.5px;">ALAMOSA RIVER ABOVE TERRACE RESERVOIR, 08236000.DWR.Streamflow.Month (1914-05 to 2002-09) (REF TS)</div>

<div class="abs vp" style="left:10px;top:426px;font-size:11px;line-height:14px;white-space:nowrap;">Visible Period (white):</div>

<div class="abs btn" style="left:180px;top:448px;width:43px;">|&lt;</div>
<div class="abs btn" style="left:228px;top:448px;width:47px;">&lt;&lt;</div>
<div class="abs btn" style="left:280px;top:448px;width:41px;">&lt;</div>
<div class="abs btn" style="left:326px;top:448px;width:41px;">&gt;</div>
<div class="abs btn" style="left:372px;top:448px;width:47px;">&gt;&gt;</div>
<div class="abs btn" style="left:424px;top:448px;width:43px;">&gt;|</div>
<div class="abs btn" style="left:472px;top:448px;width:79px;">ZoomOut</div>

<div class="abs btn" style="left:198px;top:485px;width:79px;">Summary</div>
<div class="abs btn" style="left:282px;top:485px;width:61px;">Table</div>
<div class="abs btn" style="left:348px;top:485px;width:55px;">Print</div>
<div class="abs btn" style="left:408px;top:485px;width:59px;border-color:#000;box-shadow:inset 1px 1px 0 #fff,inset -1px -1px 0 #404040,inset -2px -2px 0 #808080;">Save<div class="abs" style="left:4px;top:3px;width:47px;height:15px;border:1px dotted #000;"></div></div>
<div class="abs btn" style="left:472px;top:485px;width:61px;">Close</div>

<div class="abs status" style="left:7px;top:517px;width:264px;">Zoom Mode</div>
<div class="abs status" style="left:277px;top:517px;width:448px;letter-spacing:0;padding-left:1px;">X:&nbsp; 1934-03,&nbsp; Y:&nbsp; 21136.97</div>
</body></html>
